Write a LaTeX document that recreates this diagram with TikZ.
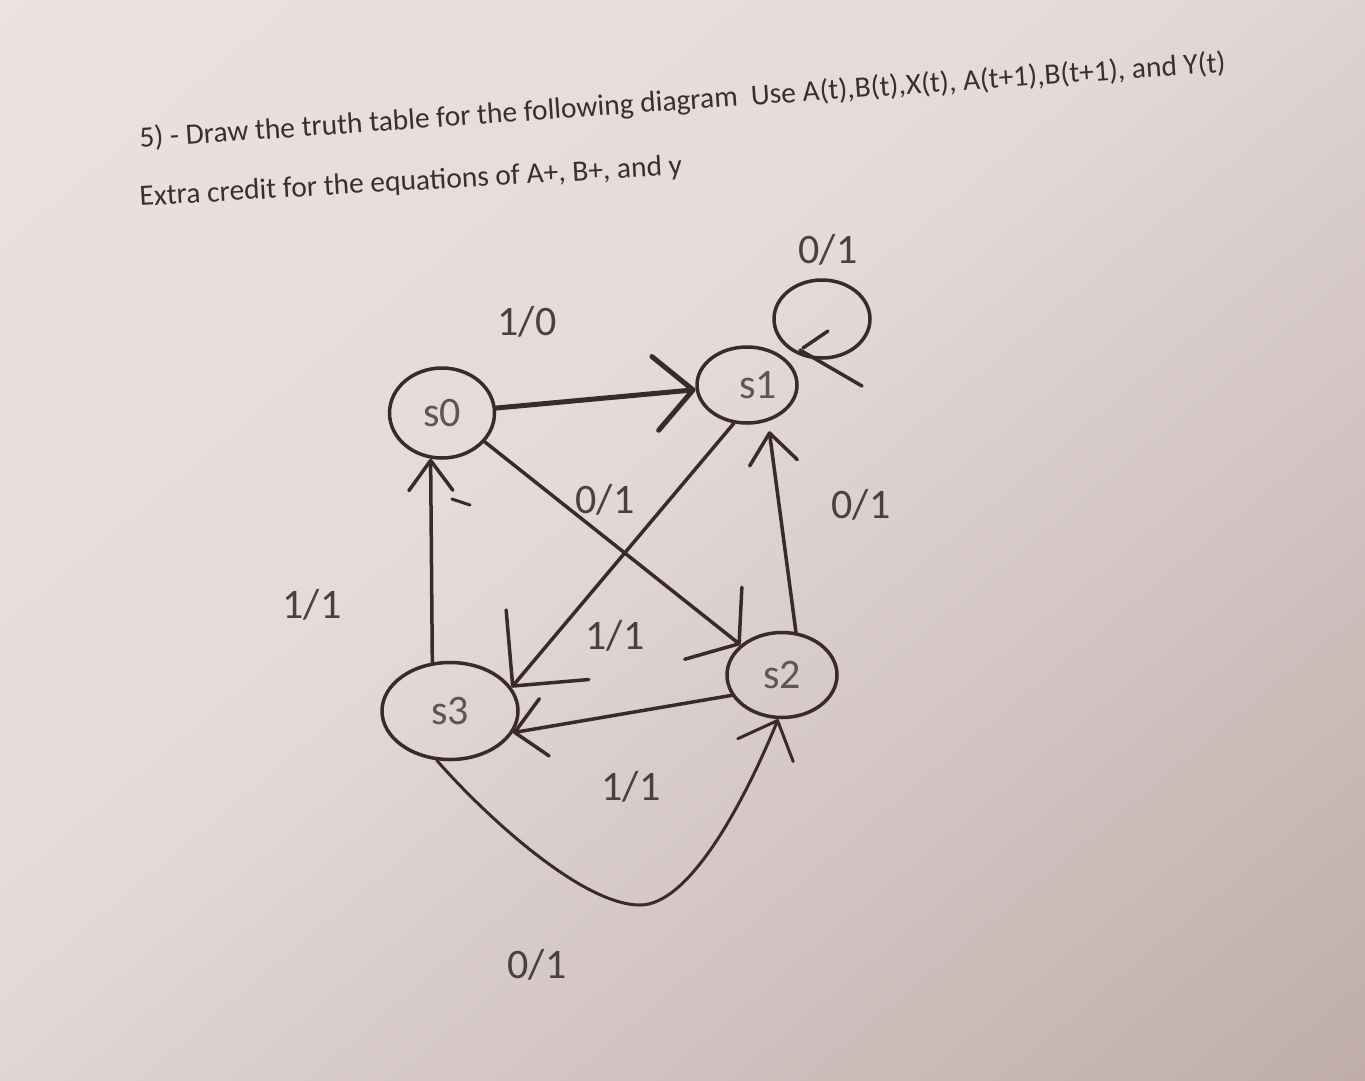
\documentclass[tikz,border=0pt]{standalone}
\usepackage{fontspec}
\setmainfont{Carlito}
\usetikzlibrary{shapes.geometric,arrows.meta,shadings}
\definecolor{ink}{HTML}{3A2B29}
\definecolor{hdrtxt}{HTML}{3A2F2E}
\definecolor{labtxt}{HTML}{4A403F}
\definecolor{nodetxt}{HTML}{605554}
\definecolor{bgTop}{HTML}{EFE7E5}
\definecolor{bgMid}{HTML}{E4DAD8}
\definecolor{bgMidB}{HTML}{CFC1BF}
\definecolor{bgBot}{HTML}{B39D9A}
\pgfdeclareverticalshading{paper}{100bp}{color(0bp)=(bgBot); color(33bp)=(bgMidB); color(55bp)=(bgMid); color(100bp)=(bgTop)}
\begin{document}
\begin{tikzpicture}[x=1pt,y=-1pt,
  st/.style={ellipse,draw=ink,line width=3.5pt,inner sep=0pt,text=nodetxt,font=\fontsize{42}{44}\selectfont},
  lbl/.style={text=labtxt,font=\fontsize{42}{44}\selectfont,inner sep=0pt},
  hdr/.style={text=hdrtxt,font=\fontsize{29.5}{31}\selectfont,inner sep=0pt,anchor=base west},
  edge/.style={draw=ink,line width=3.5pt,line cap=round,line join=round},
  ]
\useasboundingbox (0,0) rectangle (1365,1080);
\shade[shading=paper, shading angle=40] (0,0) rectangle (1365,1080);

% header
\node[hdr,rotate=4.0] (h1) at (140,148) {5) - Draw the truth table for the following diagram\ \ Use A(t),B(t),X(t), A(t+1),B(t+1), and Y(t)};
\node[hdr,rotate=3.3] (h2) at (140,206) {Extra credit for the equations of A+, B+, and y};

% states
\node[st,minimum width=105pt,minimum height=90pt] (s0) at (442,413) {s0};
\node[st,minimum width=100pt,minimum height=76pt,text width=60pt,align=right] (s1) at (747,385) {s1};
\node[st,minimum width=110pt,minimum height=85pt] (s2) at (782,675) {s2};
\node[st,minimum width=136pt,minimum height=97pt] (s3) at (450,711) {s3};

% self loop on s1
\coordinate (lc) at (822,319);
\draw[edge] (lc) ellipse [x radius=48pt, y radius=39pt];
\draw[edge] (800,350) -- (862,386);
\draw[edge] (803,348) -- (828,331);

% transitions
\draw[edge,line width=5pt,-{Straight Barb[length=38pt,width=74pt,round]}] (s0) -- (s1);
\draw[edge,-{Straight Barb[length=30pt,width=44pt,round]}] (s3.110) -- (s0.256);
\draw[edge,line width=3pt] (452,499) -- (470,505);
\draw[edge,-{Straight Barb[length=33pt,width=92pt,round]}] (s0.326) -- (s2.144);
\draw[edge,-{Straight Barb[length=54pt,width=108pt,round]}] (s1.251) -- (s3.21);
\draw[edge,shorten >=10pt,-{Straight Barb[length=30pt,width=48pt,round]}] (s2.72) -- (s1.300);
\draw[edge,-{Straight Barb[length=30pt,width=58pt,round]}] (s2.202) -- (s3.341);
\draw[edge,line width=3pt,-{Straight Barb[length=32pt,width=60pt,round]}] (s3.255) .. controls (480,810) and (580,905) .. (640,905) .. controls (690,905) and (745,800) .. (s2.265);

% labels
\node[lbl] (l10) at (527,322) {1/0};
\node[lbl] (lloop) at (828,250) {0/1};
\node[lbl] (l02) at (605,500) {0/1};
\node[lbl] (l21) at (861,505) {0/1};
\node[lbl] (l30) at (312,605) {1/1};
\node[lbl] (l13) at (615,636) {1/1};
\node[lbl] (l23) at (631,787) {1/1};
\node[lbl] (l32) at (537,965) {0/1};
\end{tikzpicture}
\end{document}
